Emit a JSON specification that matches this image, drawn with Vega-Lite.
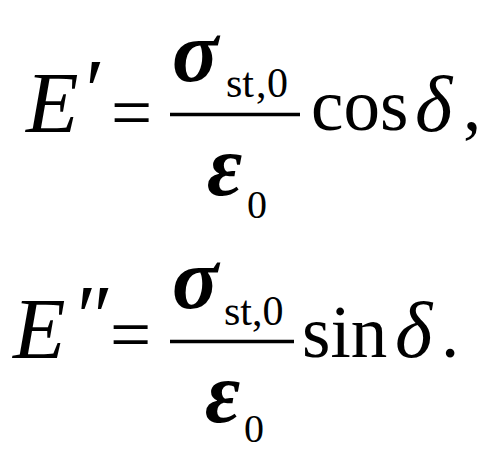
{
  "$schema": "https://vega.github.io/schema/vega-lite/v6.json",
  "width": 500,
  "height": 458,
  "autosize": {"type": "fit", "contains": "padding"},
  "padding": 0,
  "background": "#ffffff",
  "datasets": {
    "glyphs": [
      {"eq": 1, "text": "E", "kind": "var", "x": 26, "y": 132},
      {"eq": 1, "text": "′", "kind": "prime", "x": 80, "y": 120},
      {"eq": 1, "text": "=", "kind": "roman", "x": 111, "y": 137},
      {"eq": 1, "text": "σ", "kind": "greek", "x": 172, "y": 81},
      {"eq": 1, "text": "st", "kind": "sub", "x": 226, "y": 97},
      {"eq": 1, "text": ",", "kind": "sub", "x": 256, "y": 97},
      {"eq": 1, "text": "0", "kind": "sub", "x": 267, "y": 97},
      {"eq": 1, "text": "ε", "kind": "greek", "x": 207, "y": 195},
      {"eq": 1, "text": "0", "kind": "small", "x": 247, "y": 218},
      {"eq": 1, "text": "cos", "kind": "roman", "x": 311, "y": 130},
      {"eq": 1, "text": "δ", "kind": "delta", "x": 415, "y": 131},
      {"eq": 1, "text": ",", "kind": "roman", "x": 463, "y": 130},
      {"eq": 2, "text": "E", "kind": "var", "x": 13, "y": 358},
      {"eq": 2, "text": "″", "kind": "prime", "x": 71, "y": 346},
      {"eq": 2, "text": "=", "kind": "roman", "x": 110, "y": 359},
      {"eq": 2, "text": "σ", "kind": "greek", "x": 172, "y": 308},
      {"eq": 2, "text": "st,0", "kind": "sub", "x": 224, "y": 325},
      {"eq": 2, "text": "ε", "kind": "greek", "x": 205, "y": 422},
      {"eq": 2, "text": "0", "kind": "small", "x": 244, "y": 442},
      {"eq": 2, "text": "sin", "kind": "roman", "x": 302, "y": 357},
      {"eq": 2, "text": "δ", "kind": "delta", "x": 395, "y": 357},
      {"eq": 2, "text": ".", "kind": "roman", "x": 441, "y": 357}
    ],
    "bars": [
      {"eq": 1, "x": 170, "x2": 300, "y": 114.5},
      {"eq": 2, "x": 170, "x2": 294, "y": 341.5}
    ]
  },
  "encoding": {
    "x": {"field": "x", "type": "quantitative", "scale": {"domain": [0, 500], "nice": false, "zero": false}, "axis": null},
    "y": {"field": "y", "type": "quantitative", "scale": {"domain": [0, 458], "nice": false, "zero": false, "reverse": true}, "axis": null}
  },
  "layer": [
    {
      "data": {"name": "bars"},
      "mark": {"type": "rule", "color": "#000000", "strokeWidth": 3.5},
      "encoding": {"x2": {"field": "x2"}}
    },
    {
      "data": {"name": "glyphs"},
      "transform": [{"filter": "datum.kind === 'roman'"}],
      "mark": {"type": "text", "align": "left", "baseline": "alphabetic", "font": "Liberation Serif", "fontSize": 73, "color": "#000000"},
      "encoding": {"text": {"field": "text"}}
    },
    {
      "data": {"name": "glyphs"},
      "transform": [{"filter": "datum.kind === 'var'"}],
      "mark": {"type": "text", "align": "left", "baseline": "alphabetic", "font": "Liberation Serif", "fontStyle": "italic", "fontSize": 86, "color": "#000000"},
      "encoding": {"text": {"field": "text"}}
    },
    {
      "data": {"name": "glyphs"},
      "transform": [{"filter": "datum.kind === 'prime'"}],
      "mark": {"type": "text", "align": "left", "baseline": "alphabetic", "font": "Liberation Serif", "fontStyle": "italic", "fontSize": 88, "color": "#000000"},
      "encoding": {"text": {"field": "text"}}
    },
    {
      "data": {"name": "glyphs"},
      "transform": [{"filter": "datum.kind === 'delta'"}],
      "mark": {"type": "text", "align": "left", "baseline": "alphabetic", "font": "Liberation Serif", "fontStyle": "italic", "fontSize": 80, "color": "#000000"},
      "encoding": {"text": {"field": "text"}}
    },
    {
      "data": {"name": "glyphs"},
      "transform": [{"filter": "datum.kind === 'greek'"}],
      "mark": {"type": "text", "align": "left", "baseline": "alphabetic", "font": "Liberation Serif", "fontStyle": "italic", "fontWeight": "bold", "fontSize": 86, "color": "#000000"},
      "encoding": {"text": {"field": "text"}}
    },
    {
      "data": {"name": "glyphs"},
      "transform": [{"filter": "datum.kind === 'sub'"}],
      "mark": {"type": "text", "align": "left", "baseline": "alphabetic", "font": "Liberation Serif", "fontSize": 42, "color": "#000000"},
      "encoding": {"text": {"field": "text"}}
    },
    {
      "data": {"name": "glyphs"},
      "transform": [{"filter": "datum.kind === 'small'"}],
      "mark": {"type": "text", "align": "left", "baseline": "alphabetic", "font": "Liberation Serif", "fontSize": 40, "color": "#000000"},
      "encoding": {"text": {"field": "text"}}
    }
  ],
  "config": {
    "view": {"stroke": null}
  }
}
